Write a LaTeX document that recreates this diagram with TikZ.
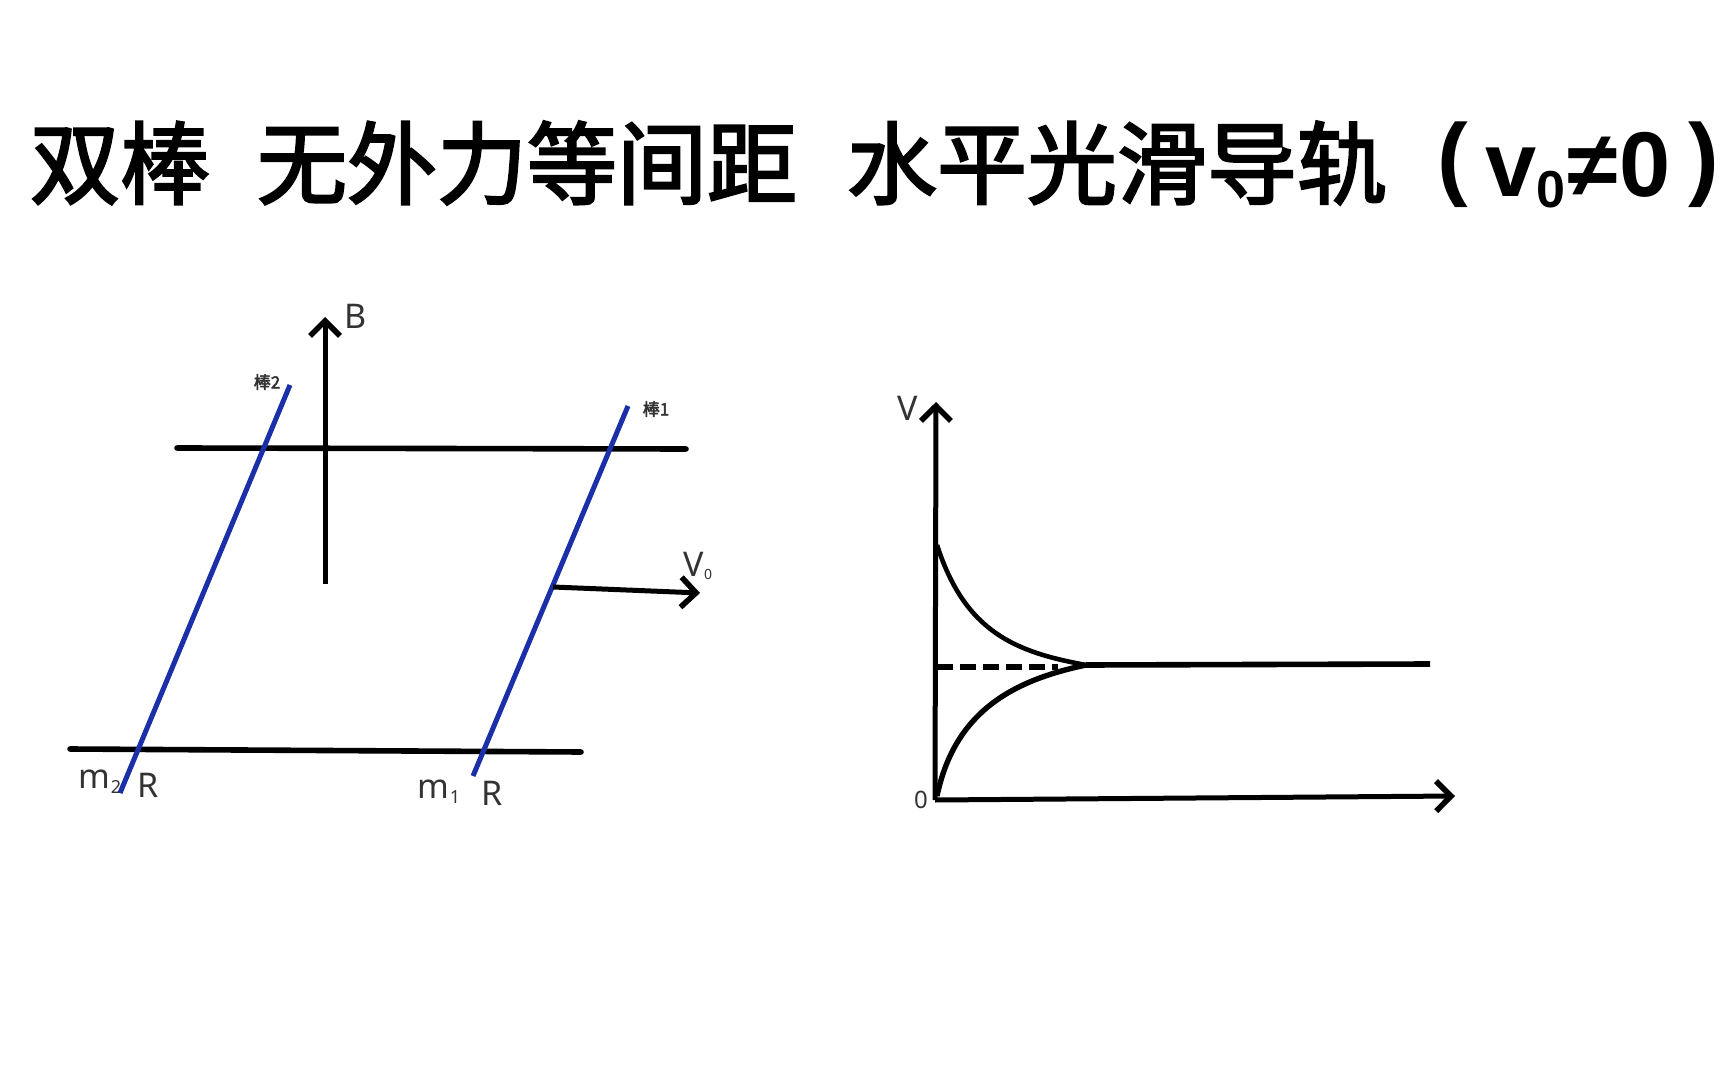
\documentclass[tikz,border=0pt]{standalone}
\usepackage{fontspec}
\setmainfont{Noto Sans}
\newfontfamily\cjk[FakeBold=2.6]{Noto Sans CJK SC}
\newfontfamily\lat{Liberation Sans}
\usetikzlibrary{arrows.meta}
\definecolor{barblue}{HTML}{1B2FA8}
\definecolor{lab}{HTML}{333333}
\tikzset{
  x=0.5pt,y=-0.5pt,
  titletext/.style={inner sep=0pt,font=\fontsize{45}{45}\selectfont\cjk,anchor=center},
  parentext/.style={inner sep=0pt,font=\fontsize{46}{46}\selectfont\lat\bfseries,anchor=center},
  rail/.style={line width=2.8pt,black,line cap=round},
  bar/.style={line width=2.5pt,barblue},
  arrowline/.style={line width=2.5pt,black,-{Straight Barb[length=7.5pt,width=15pt,line width=2.8pt]}},
  curveline/.style={line width=2.3pt,black},
  lbl/.style={inner sep=0pt,text=lab,font=\fontsize{17}{17}\selectfont},
  tiny/.style={inner sep=0pt,text=lab,font=\fontsize{8.5}{9}\selectfont\cjk},
}
\begin{document}
\begin{tikzpicture}
\useasboundingbox (0,0) rectangle (1728,1080);
% title
\node[titletext] (t1) at (120,163) {双棒};
\node[titletext] (t2) at (527,163) {无外力等间距};
\node[titletext] (t3) at (1117,163) {水平光滑导轨};
\node[parentext] (t4) at (1453,165) {(};
\node[parentext] (t5) at (1578,170) {v\raisebox{-0.12em}{\fontsize{26}{26}\selectfont\lat\bfseries 0}\kern.02em≠\kern.02em 0};
\node[parentext] (t6) at (1704,165) {)};
% left figure coordinates
\coordinate (bbot) at (325,584);
\coordinate (btop) at (325,317);
\coordinate (u1) at (177,448);
\coordinate (u2) at (686,449);
\coordinate (d1) at (70,749);
\coordinate (d2) at (581,752);
\coordinate (b2t) at (290,385);
\coordinate (b2b) at (120,793);
\coordinate (b1t) at (628,406);
\coordinate (b1b) at (473,776);
\coordinate (v0a) at (553,587);
\coordinate (v0b) at (700,593);
\draw[rail] (u1) -- (u2);
\draw[rail] (d1) -- (d2);
\draw[arrowline] (bbot) -- (btop);
\draw[bar] (b2t) -- (b2b);
\draw[bar] (b1t) -- (b1b);
\draw[arrowline] (v0a) -- (v0b);
\node[lbl] (B) at (356,316) {B};
\node[tiny] (n2) at (267,382) {棒2};
\node[tiny] (n1) at (656,409) {棒1};
\node[lbl] (V0) at (698,566) {V\raisebox{-0.1em}{\fontsize{7}{7}\selectfont 0}};
\node[lbl] (m2) at (100,782) {m\raisebox{-0.15em}{\fontsize{9}{9}\selectfont 2}};
\node[lbl] (R2) at (148,785) {R};
\node[lbl] (m1) at (439,792) {m\raisebox{-0.15em}{\fontsize{9}{9}\selectfont 1}};
\node[lbl] (R1) at (492,793) {R};
% graph coordinates
\coordinate (o) at (935,800);
\coordinate (yt) at (936,402);
\coordinate (xt) at (1455,796);
\coordinate (c0) at (937,545);
\coordinate (c1) at (1086,665);
\coordinate (c2) at (1430,664);
\coordinate (l0) at (937,796);
\coordinate (da) at (937,667);
\coordinate (db) at (1058,667);
\draw[arrowline] (o) -- (yt);
\draw[arrowline] (o) -- (xt);
\draw[curveline] (c0) .. controls (965,632) and (1015,652) .. (c1);
\draw[curveline,line width=2.7pt] (l0) .. controls (955,710) and (1015,680) .. (c1);
\draw[curveline,line width=2.8pt] (c1) -- (c2);
\draw[line width=2.6pt,dash pattern=on 8pt off 3.5pt] (da) -- (db);
\node[lbl] (V) at (908,408) {V};
\node[lbl,font=\fontsize{12}{12}\selectfont] (zero) at (921,800) {0};
\end{tikzpicture}
\end{document}
